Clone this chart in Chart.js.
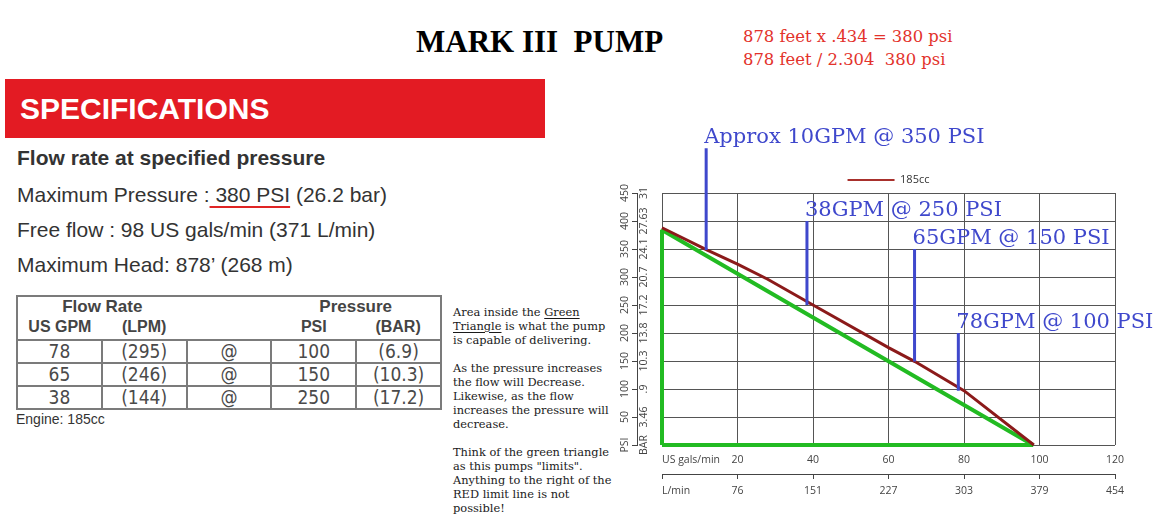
<!DOCTYPE html>
<html><head><meta charset="utf-8">
<script src="https://cdn.jsdelivr.net/npm/chart.js@4/dist/chart.umd.min.js"></script>
<style>
html,body{margin:0;padding:0;background:#fff;}
body{width:1170px;height:531px;position:relative;overflow:hidden;font-family:"Liberation Sans",Arial,sans-serif;}
.abs{position:absolute;white-space:pre;}
#title{left:416px;top:24px;font:bold 31px/36px "Liberation Serif",serif;color:#000;}
.note{left:743px;font:16.4px/20px "DejaVu Serif",serif;color:#e3322b;}
#banner{position:absolute;left:5px;top:79px;width:540px;height:59px;background:#e31b23;}
#banner span{position:absolute;left:15px;top:0;line-height:59px;font-weight:bold;font-size:30px;color:#fff;}
.spec{left:17px;font-size:21px;line-height:26px;color:#333;}
.spec.b{font-weight:bold;}
.ul{text-decoration:underline;text-decoration-color:#e02424;text-decoration-thickness:2px;text-underline-offset:4px;}
#spec{position:absolute;left:16px;top:295px;width:426px;border-collapse:collapse;table-layout:fixed;border:2px solid #7b7b7b;}
#spec th{padding:0;font-weight:bold;color:#444;border:none;}
#spec .h1 th{font-size:17px;height:20px;line-height:20px;}
#spec .h2 th{font-size:16px;height:22px;line-height:20px;vertical-align:top;}
#spec thead{border-bottom:2px solid #7b7b7b;}
#spec td{border:2px solid #7b7b7b;text-align:center;height:21px;padding:0;font-family:"Liberation Sans Narrow","DejaVu Sans Condensed","Liberation Sans",sans-serif;font-stretch:condensed;font-size:19px;line-height:21px;color:#4a4a4a;}
#engine{left:16px;top:410px;font-size:14px;line-height:18px;color:#333;}
#para{left:453px;top:305px;font:11.4px/14px "DejaVu Serif",serif;color:#1a1a1a;}
#para u{text-decoration-thickness:1px;text-underline-offset:2px;}
#wrap{position:absolute;left:600px;top:120px;width:570px;height:411px;}
</style>
</head>
<body>
<div id="title" class="abs">MARK III  PUMP</div>
<div class="abs note" style="top:27px">878 feet x .434 = 380 psi</div>
<div class="abs note" style="top:50px">878 feet / 2.304  380 psi</div>
<div id="banner"><span>SPECIFICATIONS</span></div>
<div class="abs spec b" style="top:145px">Flow rate at specified pressure</div>
<div class="abs spec" style="top:182px">Maximum Pressure :<span class="ul"> 380 PSI</span> (26.2 bar)</div>
<div class="abs spec" style="top:217px">Free flow : 98 US gals/min (371 L/min)</div>
<div class="abs spec" style="top:252px">Maximum Head: 878’ (268 m)</div>
<table id="spec">
<thead>
<tr class="h1"><th colspan="2">Flow Rate</th><th></th><th colspan="2">Pressure</th></tr>
<tr class="h2"><th>US GPM</th><th>(LPM)</th><th></th><th>PSI</th><th>(BAR)</th></tr>
</thead>
<tbody id="tbody"></tbody>
</table>
<div id="engine" class="abs">Engine: 185cc</div>
<div id="para" class="abs">Area inside the <u>Green</u>
<u>Triangle</u> is what the pump
is capable of delivering.

As the pressure increases
the flow will Decrease.
Likewise, as the flow
increases the pressure will
decrease.

Think of the green triangle
as this pumps "limits".
Anything to the right of the
RED limit line is not
possible!</div>
<div id="wrap"><canvas id="c" width="570" height="411"></canvas></div>
<script>
// ---- table data ----
const tblGpm = ['78', '65', '38'];
const tblLpm = ['(295)', '(246)', '(144)'];
const tblAt = ['@', '@', '@'];
const tblPsi = ['100', '150', '250'];
const tblBar = ['(6.9)', '(10.3)', '(17.2)'];

// ---- chart axes labels ----
const gpmLabels = ['', '20', '40', '60', '80', '100', '120'];
const lpmLabels = ['', '76', '151', '227', '303', '379', '454'];
const axisCaptions = ['US gals/min', 'L/min'];
const psiLabels = ['PSI', '50', '100', '150', '200', '250', '300', '350', '400', '450'];
const barLabels = ['BAR', '3.46', '.9', '10.3', '13.8', '17.2', '20.7', '24.1', '27.63', '31'];

// ---- series ----
const limitGpm = [0, 0, 98.3, 0];
const limitPsi = [0, 384, 0, 0];
const curveGpm = [0, 12, 20, 28, 40, 60, 67, 80, 98.5];
const curvePsi = [388, 348, 323, 296, 250, 174, 149, 97, 0];
const markGpm = [11.7, 38.4, 66.9, 78.5];
const markTop = [530, 400, 350, 200];
const markBottom = [348, 250, 149, 97];
const markText = ['Approx 10GPM @ 350 PSI', '38GPM @ 250 PSI', '65GPM @ 150 PSI', '78GPM @ 100 PSI'];

// build table
const tbody = document.getElementById('tbody');
tblGpm.forEach((g, i) => {
  const tr = document.createElement('tr');
  [g, tblLpm[i], tblAt[i], tblPsi[i], tblBar[i]].forEach(v => {
    const td = document.createElement('td'); td.textContent = v; tr.appendChild(td);
  });
  tbody.appendChild(tr);
});

const limitData = limitGpm.map((x, i) => ({x, y: limitPsi[i]}));
const curveData = curveGpm.map((x, i) => ({x, y: curvePsi[i]}));
const markData = [];
markGpm.forEach((x, i) => {
  markData.push({x, y: markTop[i]}, {x, y: markBottom[i]}, {x, y: null});
});

const tickFont = {family: 'Open Sans', size: 10.5};
const tickColor = '#444';

const notesPlugin = {
  id: 'notes',
  afterLayout(chart) {
    if (chart.legend) { chart.legend.top += 2.5; chart.legend.bottom += 2.5; }
  },
  afterDatasetsDraw(chart) {
    const ctx = chart.ctx;
    const xs = chart.scales.x, ys = chart.scales.y, x2 = chart.scales.x2;
    ctx.save();
    ctx.fillStyle = '#3f48cc';
    ctx.font = '21px "DejaVu Serif"';
    ctx.textAlign = 'left';
    ctx.textBaseline = 'alphabetic';
    markText.forEach((t, i) => {
      ctx.fillText(t, xs.getPixelForValue(markGpm[i]) - 2, ys.getPixelForValue(markTop[i]) - 5);
    });
    ctx.font = '10.5px "Open Sans"';
    ctx.fillStyle = tickColor;
    ctx.textBaseline = 'middle';
    ctx.fillText(axisCaptions[0], xs.getPixelForValue(0), xs.top + 9 + 6.3);
    ctx.fillText(axisCaptions[1], x2.getPixelForValue(0), x2.top + 11 + 6.3);
    ctx.restore();
  }
};

Chart.defaults.font.family = 'Open Sans';

new Chart(document.getElementById('c'), {
  type: 'line',
  data: {
    datasets: [
      {label: 'markers', data: markData, borderColor: '#3f48cc', borderWidth: 3, pointRadius: 0, clip: false, spanGaps: false, borderCapStyle: 'butt', tension: 0},
      {label: '185cc', data: curveData, borderColor: '#8b1a1a', borderWidth: 3, pointRadius: 0, clip: false, tension: 0},
      {label: 'limit', data: limitData, borderColor: '#22bb22', borderWidth: 4, pointRadius: 0, clip: false, tension: 0, borderJoinStyle: 'bevel'}
    ]
  },
  options: {
    responsive: false,
    animation: false,
    devicePixelRatio: 1,
    layout: {padding: {left: 13, right: 55, top: 46, bottom: 27}},
    plugins: {
      tooltip: {enabled: false},
      legend: {
        position: 'top',
        fullSize: false,
        labels: {
          usePointStyle: true,
          pointStyleWidth: 47,
          padding: 6,
          color: '#333',
          font: {family: 'Open Sans', size: 11},
          generateLabels(chart) {
            return Chart.defaults.plugins.legend.labels.generateLabels(chart)
              .filter(it => it.text === '185cc')
              .map(it => Object.assign(it, {pointStyle: 'line', lineWidth: 2, strokeStyle: '#a8302c'}));
          }
        }
      }
    },
    scales: {
      x: {
        type: 'linear', position: 'bottom', weight: 1, min: 0, max: 120,
        ticks: {stepSize: 20, autoSkip: false, maxRotation: 0, padding: 9, font: tickFont, color: tickColor,
          callback: (v, i) => gpmLabels[i]},
        grid: {color: '#555', lineWidth: 1, drawTicks: false},
        border: {display: false},
        afterFit: s => { s.height = 29; }
      },
      x2: {
        type: 'linear', position: 'bottom', weight: 2, min: 0, max: 120,
        ticks: {stepSize: 20, autoSkip: false, maxRotation: 0, padding: 6, font: tickFont, color: tickColor,
          callback: (v, i) => lpmLabels[i]},
        grid: {drawOnChartArea: false, tickLength: 5, color: '#444'},
        border: {display: true, color: '#444', width: 1},
        afterFit: s => { s.height = 30; }
      },
      y: {
        type: 'linear', position: 'left', weight: 2, min: 0, max: 450,
        ticks: {stepSize: 50, autoSkip: false, minRotation: 90, maxRotation: 90, crossAlign: 'center', padding: -2,
          font: tickFont, color: tickColor, callback: (v, i) => psiLabels[i]},
        grid: {color: '#555', lineWidth: 1, tickLength: 5, tickColor: '#444'},
        border: {display: true, color: '#444', width: 1},
        afterFit: s => { s.width = 24; }
      },
      y2: {
        type: 'linear', position: 'left', weight: 1, min: 0, max: 450,
        ticks: {stepSize: 50, autoSkip: false, minRotation: 90, maxRotation: 90, crossAlign: 'center', padding: -3,
          font: tickFont, color: tickColor, callback: (v, i) => barLabels[i]},
        grid: {display: false},
        border: {display: false},
        afterFit: s => { s.width = 25; }
      }
    }
  },
  plugins: [notesPlugin]
});
</script>
</body></html>
